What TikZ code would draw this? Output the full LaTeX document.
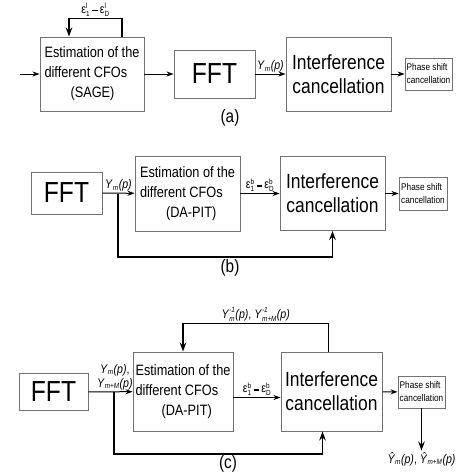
\documentclass[tikz,border=0pt]{standalone}
\usepackage{fontspec}
\setmainfont[FakeStretch=0.85]{Liberation Sans}
\usetikzlibrary{arrows.meta}

\newcommand\estfont{\fontsize{15}{20}\selectfont}
\newcommand\intfont{\fontsize{20.5}{24}\selectfont}
\newcommand\fftfont{\fontsize{29}{32}\selectfont}
\newcommand\phfont{\fontsize{9.7}{13}\selectfont}
\newcommand\lblfont{\fontsize{12.5}{14}\selectfont}
\newcommand\capfont{\fontsize{18}{20}\selectfont}

\newcommand\smallidx[1]{\mbox{\fontsize{7.5}{8}\selectfont #1}}
\newcommand\bdash{\,\rule[0.3ex]{0.45em}{1.5pt}\,}
\newcommand\epsrange[1]{$\mbox{ε}^{\smallidx{#1}}_{\smallidx{1}}$\bdash$\mbox{ε}^{\smallidx{#1}}_{\smallidx{D}}$}
\newcommand\Yp[1]{$\mbox{\textit{Y}}_{\smallidx{\textit{#1}}}$\textit{(p)}}
\newcommand\Yinv[1]{$\mbox{\textit{Y}}^{\smallidx{\textit{-1}}}_{\smallidx{\textit{#1}}}$\textit{(p)}}
\newcommand\Yhat[1]{$\mbox{\textit{Ŷ}}_{\smallidx{\textit{#1}}}$\textit{(p)}}

\tikzset{
  blk/.style={draw=black!55, line width=0.9pt, inner sep=0pt},
  est/.style={blk, align=left, font=\estfont},
  intc/.style={blk, align=center, font=\intfont},
  fftb/.style={blk, font=\fftfont},
  phase/.style={blk, align=left, font=\phfont},
  lbl/.style={font=\lblfont, inner sep=1.5pt},
  arr/.style={-{Stealth[length=7pt,width=5pt]}, line width=1pt},
  fb/.style={-{Stealth[length=9pt,width=6.5pt]}, line width=1.6pt}
}

\begin{document}
\begin{tikzpicture}[x=1pt,y=-1pt]
	\useasboundingbox (0,0) rectangle (474,474);

	% (a)
	\node[est, minimum width=104pt, minimum height=74pt] (sageA) at (92,74) {Estimation of the\\different CFOs\\\hspace*{26pt}(SAGE)};
	\node[fftb, minimum width=81pt, minimum height=48pt] (fftA) at (214.5,74) {FFT};
	\node[intc, minimum width=105pt, minimum height=74pt] (intA) at (338.5,74) {Interference\\cancellation};
	\node[phase, minimum width=47pt, minimum height=32pt] (phA) at (428.5,74) {Phase shift\\cancellation};
	\coordinate (inA) at (20,74);

	\draw[arr] (inA) -- (sageA);
	\draw[arr] (sageA) -- (fftA);
	\draw[arr] (fftA) -- node[lbl, above] {\Yp{m}} (intA);
	\draw[arr] (intA) -- (phA);
	\draw[fb] ([xshift=30pt]sageA.north) -- ++(0,-18) -| node[lbl, pos=0.25, above] {\epsrange{l}} ([xshift=-23pt]sageA.north);

	\node[font=\capfont] (capA) at (230,118) {(a)};

	% (b)
	\node[fftb, minimum width=71pt, minimum height=42pt] (fftB) at (66.5,193) {FFT};
	\node[est, minimum width=105pt, minimum height=75pt] (estB) at (187.5,193.5) {Estimation of the\\different CFOs\\\hspace*{26pt}(DA-PIT)};
	\node[intc, minimum width=105pt, minimum height=74pt] (intB) at (332.5,193.5) {Interference\\cancellation};
	\node[phase, minimum width=48pt, minimum height=33pt] (phB) at (423,193.5) {Phase shift\\cancellation};
	\coordinate (brB) at (118,193.5);
	\coordinate (lowB) at (118,257);

	\draw[arr] (fftB) -- node[lbl, above] {\Yp{m}} (estB);
	\draw[arr] (estB) -- node[lbl, above] {\epsrange{b}} (intB);
	\draw[arr] (intB) -- (phB);
	\draw[fb] (brB) -- (lowB) -| (intB.south);

	\node[font=\capfont] (capB) at (230,268) {(b)};

	% (c)
	\node[fftb, minimum width=69pt, minimum height=37pt] (fftC) at (53.5,392) {FFT};
	\node[est, minimum width=100pt, minimum height=79pt] (estC) at (183,391.5) {Estimation of the\\different CFOs\\\hspace*{26pt}(DA-PIT)};
	\node[intc, minimum width=101pt, minimum height=79pt] (intC) at (331.5,391.5) {Interference\\cancellation};
	\node[phase, minimum width=47pt, minimum height=32pt] (phC) at (421.5,392) {Phase shift\\cancellation};
	\node[lbl] (yhat) at (421.5,459) {\Yhat{m}, \Yhat{m+M}};
	\coordinate (brC) at (114,392);
	\coordinate (lowC) at (114,454);

	\draw[arr] (fftC) -- node[lbl, above, align=center, pos=0.6] {\Yp{m},\\\Yp{m+M}} (estC);
	\draw[arr] ([yshift=-6pt]estC.east) -- node[lbl, above] {\epsrange{b}} ([yshift=-6pt]intC.west);
	\draw[arr] (intC) -- (phC);
	\draw[fb] (brC) -- (lowC) -| ([xshift=-9pt]intC.south);
	\draw[fb] ([xshift=-3pt]intC.north) -- ++(0,-28) -| node[lbl, pos=0.25, above] {\Yinv{m}, \Yinv{m+M}} (estC.north);
	\draw[fb] (phC) -- (yhat);

	\node[font=\capfont] (capC) at (228,464) {(c)};
\end{tikzpicture}
\end{document}
